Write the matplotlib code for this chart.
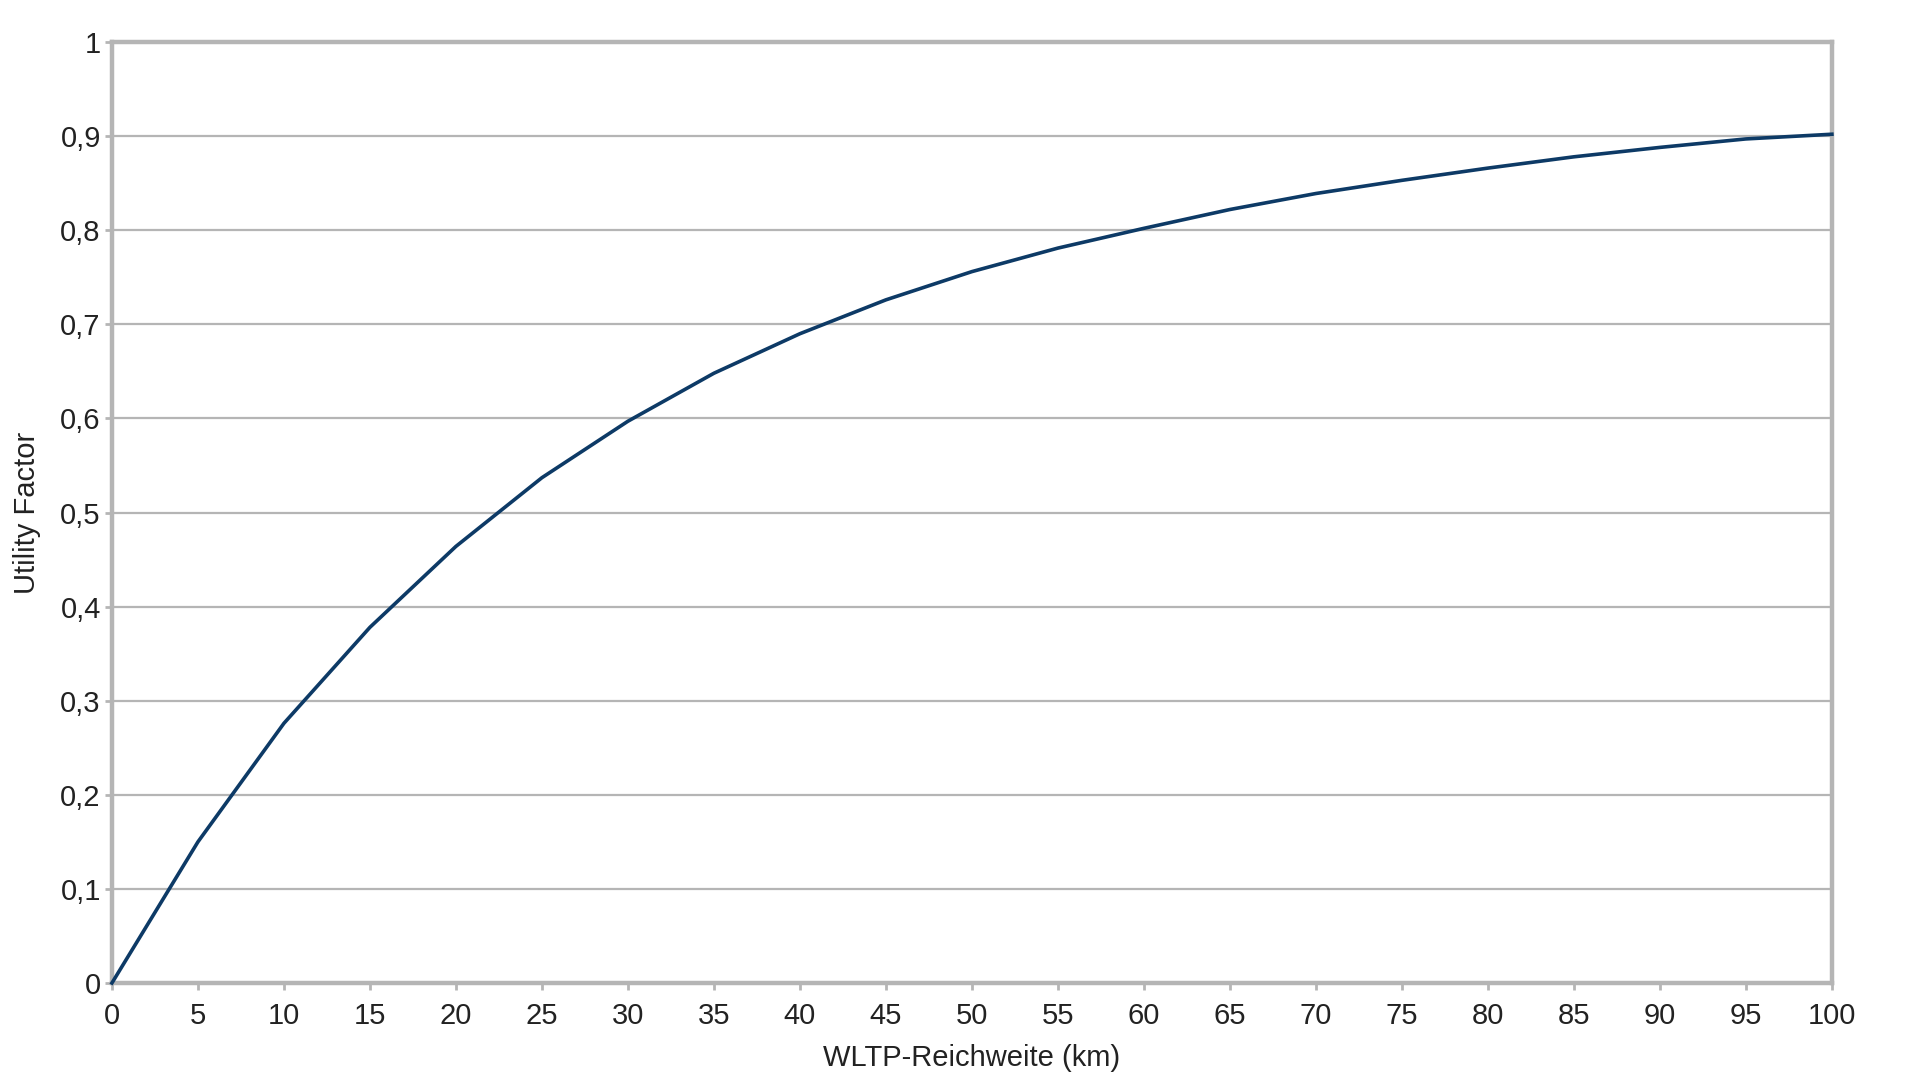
import matplotlib
matplotlib.use("Agg")
import matplotlib.pyplot as plt
from matplotlib.ticker import FuncFormatter, MultipleLocator

plt.rcParams['font.family'] = ['Liberation Sans', 'DejaVu Sans']

# WLTP range (km) and utility factor
reichweite = [0, 5, 10, 15, 20, 25, 30, 35, 40, 45, 50,
              55, 60, 65, 70, 75, 80, 85, 90, 95, 100]
utility_factor = [0.0, 0.150, 0.276, 0.378, 0.464, 0.537, 0.597, 0.648, 0.690, 0.726, 0.756,
                  0.781, 0.802, 0.822, 0.839, 0.853, 0.866, 0.878, 0.888, 0.897, 0.902]

grid_color = '#b5b5b5'
line_color = '#0d3a66'

fig = plt.figure(figsize=(19.2, 10.8), dpi=100)
ax = fig.add_axes([0.0583, 0.0898, 0.8958, 0.8713])

ax.plot(reichweite, utility_factor, color=line_color, linewidth=2.6, zorder=3, clip_on=False)

ax.set_xlim(0, 100)
ax.set_ylim(0, 1)
ax.xaxis.set_major_locator(MultipleLocator(5))
ax.yaxis.set_major_locator(MultipleLocator(0.1))
ax.yaxis.set_major_formatter(FuncFormatter(lambda v, p: ('%g' % round(v, 1)).replace('.', ',')))

ax.grid(axis='y', color=grid_color, linewidth=1.6)
ax.set_axisbelow(True)
for s in ax.spines.values():
    s.set_color(grid_color)
    s.set_linewidth(3.2)

ax.tick_params(axis='both', colors=grid_color, labelcolor='#222222',
               labelsize=21, length=5, width=2, direction='out')
ax.tick_params(axis='x', pad=9)
ax.tick_params(axis='y', pad=3)

ax.set_xlabel('WLTP-Reichweite (km)', fontsize=21, color='#222222', labelpad=10)
ax.set_ylabel('Utility Factor', fontsize=21, color='#222222', labelpad=14)

fig.savefig('out.png', dpi=100, facecolor='white')
